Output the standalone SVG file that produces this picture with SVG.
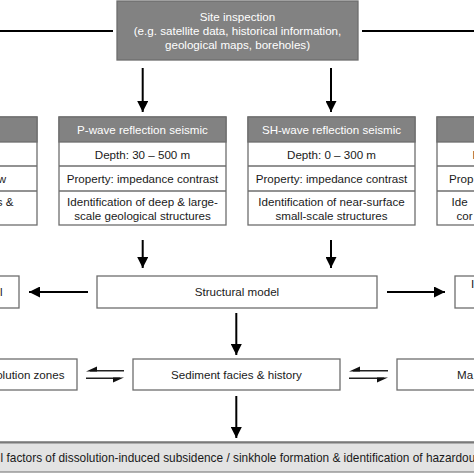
<svg xmlns="http://www.w3.org/2000/svg" width="474" height="474" viewBox="0 0 474 474">
<defs>
<marker id="ah" markerUnits="userSpaceOnUse" markerWidth="11" markerHeight="11" refX="10" refY="5" orient="auto" viewBox="0 0 10 10">
<path d="M0,0 L10,5 L0,10 z" fill="#000"/>
</marker>
</defs>
<style>
text{font-family:"Liberation Sans",Arial,sans-serif;font-size:11.6px;fill:#1a1a1a}
.w{fill:#fff}
.c{text-anchor:middle}
.e{text-anchor:end}
.box{fill:#fff;stroke:#6e6e6e;stroke-width:1.3}
.hd{fill:#828282;stroke:#6e6e6e;stroke-width:1.3}
.row{stroke:#6e6e6e;stroke-width:1.3;fill:none}
.ln{stroke:#000;stroke-width:2;fill:none}
.ar{stroke:#000;stroke-width:2;fill:none;marker-end:url(#ah)}
.eq{stroke:#222;stroke-width:1.5;fill:none}
.hh{fill:#111}
</style>
<rect width="474" height="474" fill="#fff"/>

<g id="site">
<rect class="hd" x="117" y="1" width="241" height="59" fill="#8a8a8a"/>
<text class="w c" x="237.5" y="21">Site inspection</text>
<text class="w c" x="237.5" y="35">(e.g. satellite data, historical information,</text>
<text class="w c" x="237.5" y="48.5">geological maps, boreholes)</text>
</g>

<g id="left-method">
<rect class="box" x="-130" y="117" width="167" height="108"/>
<rect class="hd" x="-130" y="117" width="167" height="25"/>
<line class="row" x1="-130" y1="166" x2="37" y2="166"/>
<line class="row" x1="-130" y1="191" x2="37" y2="191"/>
<text class="e" x="6" y="183">w</text>
<text class="e" x="13.5" y="206">s &amp;</text>
</g>

<g id="pwave">
<rect class="box" x="59" y="117" width="167" height="108"/>
<rect class="hd" x="59" y="117" width="167" height="25"/>
<line class="row" x1="59" y1="166" x2="226" y2="166"/>
<line class="row" x1="59" y1="191" x2="226" y2="191"/>
<text class="w c" x="142.5" y="134">P-wave reflection seismic</text>
<text class="c" x="142.5" y="158.5">Depth: 30 – 500 m</text>
<text class="c" x="142.5" y="183">Property: impedance contrast</text>
<text class="c" x="142.5" y="206">Identification of deep &amp; large-</text>
<text class="c" x="142.5" y="219.5">scale geological structures</text>
</g>

<g id="shwave">
<rect class="box" x="248" y="117" width="167" height="108"/>
<rect class="hd" x="248" y="117" width="167" height="25"/>
<line class="row" x1="248" y1="166" x2="415" y2="166"/>
<line class="row" x1="248" y1="191" x2="415" y2="191"/>
<text class="w c" x="331.5" y="134">SH-wave reflection seismic</text>
<text class="c" x="331.5" y="158.5">Depth: 0 – 300 m</text>
<text class="c" x="331.5" y="183">Property: impedance contrast</text>
<text class="c" x="331.5" y="206">Identification of near-surface</text>
<text class="c" x="331.5" y="219.5">small-scale structures</text>
</g>

<g id="right-method">
<rect class="box" x="437" y="117" width="167" height="108"/>
<rect class="hd" x="437" y="117" width="167" height="25"/>
<line class="row" x1="437" y1="166" x2="604" y2="166"/>
<line class="row" x1="437" y1="191" x2="604" y2="191"/>
<text x="472.5" y="158.5">D</text>
<text x="449" y="183">Prop</text>
<text x="451.5" y="206">Ide</text>
<text x="456.5" y="219.5">cor</text>
</g>

<g id="left-model">
<rect class="box" x="-80" y="276" width="99" height="32"/>
<text class="e" x="2.6" y="296">l</text>
</g>

<g id="structural">
<rect class="box" x="97" y="276" width="280" height="32"/>
<text class="c" x="237" y="296">Structural model</text>
</g>

<g id="right-model">
<rect class="box" x="455" y="276" width="99" height="32"/>
<text x="471" y="287.5">I</text>
</g>

<g id="dissolution">
<rect class="box" x="-60" y="359" width="137" height="31"/>
<text class="e" x="64.5" y="379">olution zones</text>
</g>

<g id="sediment">
<rect class="box" x="133" y="359" width="207" height="31"/>
<text class="c" x="236.5" y="379">Sediment facies &amp; history</text>
</g>

<g id="right-lower">
<rect class="box" x="397" y="359" width="137" height="31"/>
<text x="457" y="379">Ma</text>
</g>

<g id="result">
<rect x="-2" y="442" width="478" height="30" fill="#e3e3e3" stroke="#8a8a8a" stroke-width="1.3"/>
<line x1="0" y1="442.5" x2="474" y2="442.5" stroke="#7a7a7a" stroke-width="2"/>
<text x="0.6" y="462" style="font-size:11.85px">l factors of dissolution-induced subsidence / sinkhole formation &amp; identification of hazardous</text>
</g>

<g id="connectors">
<line class="ln" x1="0" y1="31" x2="113" y2="31"/>
<line class="ln" x1="362" y1="31" x2="474" y2="31"/>
<line class="ar" x1="142.7" y1="68" x2="142.7" y2="112"/>
<line class="ar" x1="331" y1="68" x2="331" y2="112"/>
<line class="ar" x1="142.7" y1="240" x2="142.7" y2="268"/>
<line class="ar" x1="331" y1="240" x2="331" y2="268"/>
<line class="ar" x1="88" y1="292" x2="29" y2="292"/>
<line class="ar" x1="387" y1="292" x2="445" y2="292"/>
<line class="ar" x1="236.3" y1="313" x2="236.3" y2="355"/>
<line class="ar" x1="236.3" y1="396" x2="236.3" y2="438"/>
<line class="eq" x1="90" y1="370.7" x2="124" y2="370.7"/>
<polygon class="hh" points="86,371.4 97,366.4 97,371.4"/>
<line class="eq" x1="86" y1="378.3" x2="120" y2="378.3"/>
<polygon class="hh" points="124,377.6 113,382.6 113,377.6"/>
<line class="eq" x1="353" y1="370.7" x2="388" y2="370.7"/>
<polygon class="hh" points="349,371.4 360,366.4 360,371.4"/>
<line class="eq" x1="349" y1="378.3" x2="384" y2="378.3"/>
<polygon class="hh" points="388,377.6 377,382.6 377,377.6"/>
</g>
</svg>
